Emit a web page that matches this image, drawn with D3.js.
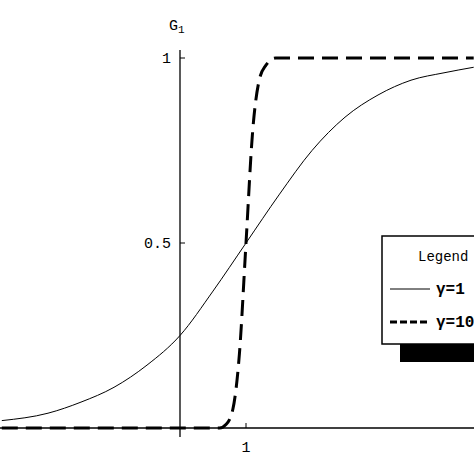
<!DOCTYPE html>
<html><head><meta charset="utf-8">
<script src="https://cdn.jsdelivr.net/npm/d3@7"></script>
<style>body{margin:0;background:#fff}text{font-family:"Liberation Mono","DejaVu Sans Mono",monospace}</style>
</head><body>
<script>
const solidX = [-2.7, -2, -1.5, -1, -0.5, 0, 0.5, 1, 1.5, 2, 2.5, 3, 3.5, 4, 4.45];
const solidY = [0.02, 0.04, 0.07, 0.11, 0.17, 0.25, 0.37, 0.5, 0.63, 0.75, 0.84, 0.9, 0.94, 0.96, 0.975];
const dashX = [-2.7, 0.6, 0.7, 0.8, 0.9, 1.0, 1.1, 1.2, 1.3, 1.45, 4.45];
const dashY = [0, 0, 0.01, 0.05, 0.2, 0.5, 0.8, 0.94, 0.98, 1, 1];
const yTicks = [0.5, 1];
const xTicks = [1];
const legendLabels = ["γ=1", "γ=10"];

const W = 474, H = 474;
const svg = d3.select('body').append('svg').attr('width', W).attr('height', H);
const x = d3.scaleLinear().domain([0, 1]).range([180, 246]);
const y = d3.scaleLinear().domain([0, 1]).range([428, 58]);

// axes
svg.append('line').attr('x1', 0).attr('x2', W).attr('y1', y(0)).attr('y2', y(0)).attr('stroke', '#000').attr('stroke-width', 1.3);
svg.append('line').attr('x1', x(0)).attr('x2', x(0)).attr('y1', 50).attr('y2', 437).attr('stroke', '#000').attr('stroke-width', 1.3);
svg.selectAll('.yt').data(yTicks).join('line').attr('x1', x(0)).attr('x2', x(0) + 5)
  .attr('y1', d => y(d)).attr('y2', d => y(d)).attr('stroke', '#000');
svg.selectAll('.ytl').data(yTicks).join('text').attr('x', x(0) - 9).attr('y', d => y(d) + 5)
  .attr('text-anchor', 'end').attr('font-size', 15).text(d => d);
svg.selectAll('.xt').data(xTicks).join('line').attr('x1', d => x(d)).attr('x2', d => x(d))
  .attr('y1', y(0)).attr('y2', y(0) - 5).attr('stroke', '#000');
svg.selectAll('.xtl').data(xTicks).join('text').attr('x', d => x(d)).attr('y', y(0) + 24)
  .attr('text-anchor', 'middle').attr('font-size', 15).text(d => d);
const g1 = svg.append('text').attr('x', 169).attr('y', 30).attr('font-size', 15).text('G');
g1.append('tspan').attr('font-size', 11).attr('dy', 3).text('1');

const line = d3.line().x(d => x(d[0])).y(d => y(d[1])).curve(d3.curveMonotoneX);
svg.append('path').attr('d', line(d3.zip(solidX, solidY))).attr('fill', 'none').attr('stroke', '#000').attr('stroke-width', 1);
svg.append('path').attr('d', line(d3.zip(dashX, dashY))).attr('fill', 'none').attr('stroke', '#000')
  .attr('stroke-width', 3).attr('stroke-dasharray', '16,8');

// legend
svg.append('rect').attr('x', 400).attr('y', 344).attr('width', 100).attr('height', 18).attr('fill', '#000');
svg.append('rect').attr('x', 382).attr('y', 236).attr('width', 120).attr('height', 108).attr('fill', '#fff').attr('stroke', '#000').attr('stroke-width', 1.5);
svg.append('text').attr('x', 418).attr('y', 261).attr('font-size', 14).text('Legend');
legendLabels.forEach((t, i) => {
  const ly = 289 + i * 33;
  svg.append('line').attr('x1', 390).attr('x2', 430).attr('y1', ly).attr('y2', ly).attr('stroke', '#000')
    .attr('stroke-width', i ? 3 : 1).attr('stroke-dasharray', i ? '7,3' : null);
  svg.append('text').attr('x', 436).attr('y', ly + 5).attr('font-size', 16).attr('font-weight', 'bold').text(t);
});
</script>
</body></html>
